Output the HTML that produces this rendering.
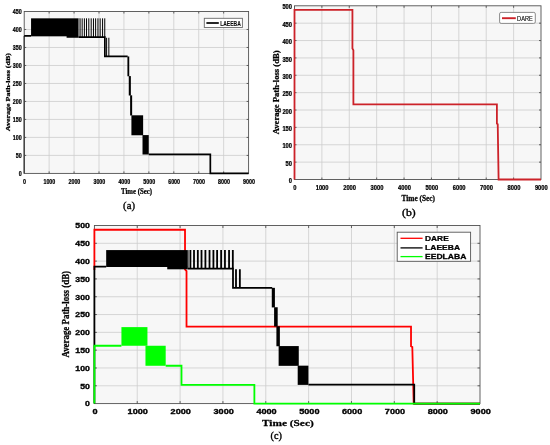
<!DOCTYPE html>
<html><head><meta charset="utf-8"><title>Average Path-loss</title>
<style>html,body{margin:0;padding:0;background:#fff;}body{width:550px;height:445px;overflow:hidden;}svg{display:block;}</style>
</head><body>
<svg width="550" height="445" viewBox="0 0 550 445">
<rect width="550" height="445" fill="#fff"/>
<rect x="24.2" y="11.5" width="224.4" height="161.9" fill="#f7f7f7"/>
<path d="M49.13 11.5V173.4M74.07 11.5V173.4M99 11.5V173.4M123.93 11.5V173.4M148.87 11.5V173.4M173.8 11.5V173.4M198.73 11.5V173.4M223.67 11.5V173.4M24.2 155.41H248.6M24.2 137.42H248.6M24.2 119.43H248.6M24.2 101.44H248.6M24.2 83.46H248.6M24.2 65.47H248.6M24.2 47.48H248.6M24.2 29.49H248.6" stroke="#cdcdcd" stroke-width="0.8" fill="none"/>
<path d="M49.13 173.4v-2M49.13 11.5v2M74.07 173.4v-2M74.07 11.5v2M99 173.4v-2M99 11.5v2M123.93 173.4v-2M123.93 11.5v2M148.87 173.4v-2M148.87 11.5v2M173.8 173.4v-2M173.8 11.5v2M198.73 173.4v-2M198.73 11.5v2M223.67 173.4v-2M223.67 11.5v2M24.2 155.41h2M248.6 155.41h-2M24.2 137.42h2M248.6 137.42h-2M24.2 119.43h2M248.6 119.43h-2M24.2 101.44h2M248.6 101.44h-2M24.2 83.46h2M248.6 83.46h-2M24.2 65.47h2M248.6 65.47h-2M24.2 47.48h2M248.6 47.48h-2M24.2 29.49h2M248.6 29.49h-2" stroke="#505050" stroke-width="0.9" fill="none"/>
<rect x="24.2" y="11.5" width="224.4" height="161.9" fill="none" stroke="#505050" stroke-width="0.9"/>
<rect x="31.06" y="18.34" width="47.52" height="17.99" fill="#000"/>
<rect x="66.59" y="35.96" width="11.99" height="1.8" fill="#000"/>
<path d="M80.08 37.04V18.34M82.17 37.04V18.34M84.39 37.04V18.34M86.53 37.04V18.34M88.8 37.04V18.34M91.2 37.04V18.34M93.46 37.04V18.34M95.61 37.04V18.34M97.95 37.04V18.34M100.17 37.04V18.34M102.57 37.04V18.34M104.76 37.04V18.34M106.6 56.47V37.76M108.85 56.47V37.76" stroke="#000" stroke-width="1.0" fill="none"/>
<path d="M24.2 173.4V35.96" stroke="#3c3c3c" stroke-width="1.3"/>
<path d="M79.13 37.04V18.34" stroke="#777" stroke-width="1.0"/>
<rect x="127.42" y="56.47" width="1.82" height="19.79" fill="#000"/>
<rect x="128.77" y="76.08" width="2.09" height="19.43" fill="#000"/>
<rect x="130.12" y="95.33" width="2.02" height="20.15" fill="#000"/>
<rect x="131.41" y="115.3" width="11.72" height="19.97" fill="#000"/>
<rect x="142.51" y="135.08" width="6.23" height="19.43" fill="#000"/>
<path d="M24.2 35.96L31.06 35.96M78.58 37.04L104.86 37.04L104.86 56.47L127.67 56.47M148.74 154.33L210.33 154.33L210.33 173.4L248.6 173.4" stroke="#000" stroke-width="1.7" fill="none"/>
<text transform="translate(23.04 183.52) scale(0.81 1)" font-family='"Liberation Sans", Arial, sans-serif' font-weight="bold" font-size="6.6" fill="#000" stroke="#000" stroke-width="0.25">0</text>
<text transform="translate(43.43 183.52) scale(0.81 1)" font-family='"Liberation Sans", Arial, sans-serif' font-weight="bold" font-size="6.6" fill="#000" stroke="#000" stroke-width="0.25">1000</text>
<text transform="translate(68.45 183.52) scale(0.81 1)" font-family='"Liberation Sans", Arial, sans-serif' font-weight="bold" font-size="6.6" fill="#000" stroke="#000" stroke-width="0.25">2000</text>
<text transform="translate(93.42 183.52) scale(0.81 1)" font-family='"Liberation Sans", Arial, sans-serif' font-weight="bold" font-size="6.6" fill="#000" stroke="#000" stroke-width="0.25">3000</text>
<text transform="translate(118.4 183.52) scale(0.81 1)" font-family='"Liberation Sans", Arial, sans-serif' font-weight="bold" font-size="6.6" fill="#000" stroke="#000" stroke-width="0.25">4000</text>
<text transform="translate(143.29 183.52) scale(0.81 1)" font-family='"Liberation Sans", Arial, sans-serif' font-weight="bold" font-size="6.6" fill="#000" stroke="#000" stroke-width="0.25">5000</text>
<text transform="translate(168.18 183.52) scale(0.81 1)" font-family='"Liberation Sans", Arial, sans-serif' font-weight="bold" font-size="6.6" fill="#000" stroke="#000" stroke-width="0.25">6000</text>
<text transform="translate(193.11 183.52) scale(0.81 1)" font-family='"Liberation Sans", Arial, sans-serif' font-weight="bold" font-size="6.6" fill="#000" stroke="#000" stroke-width="0.25">7000</text>
<text transform="translate(218.05 183.52) scale(0.81 1)" font-family='"Liberation Sans", Arial, sans-serif' font-weight="bold" font-size="6.6" fill="#000" stroke="#000" stroke-width="0.25">8000</text>
<text transform="translate(242.98 183.52) scale(0.81 1)" font-family='"Liberation Sans", Arial, sans-serif' font-weight="bold" font-size="6.6" fill="#000" stroke="#000" stroke-width="0.25">9000</text>
<text transform="translate(18.74 176.27) scale(0.81 1)" font-family='"Liberation Sans", Arial, sans-serif' font-weight="bold" font-size="6.6" fill="#000" stroke="#000" stroke-width="0.25">0</text>
<text transform="translate(15.77 158.28) scale(0.81 1)" font-family='"Liberation Sans", Arial, sans-serif' font-weight="bold" font-size="6.6" fill="#000" stroke="#000" stroke-width="0.25">50</text>
<text transform="translate(12.8 140.29) scale(0.81 1)" font-family='"Liberation Sans", Arial, sans-serif' font-weight="bold" font-size="6.6" fill="#000" stroke="#000" stroke-width="0.25">100</text>
<text transform="translate(12.8 122.3) scale(0.81 1)" font-family='"Liberation Sans", Arial, sans-serif' font-weight="bold" font-size="6.6" fill="#000" stroke="#000" stroke-width="0.25">150</text>
<text transform="translate(12.8 104.31) scale(0.81 1)" font-family='"Liberation Sans", Arial, sans-serif' font-weight="bold" font-size="6.6" fill="#000" stroke="#000" stroke-width="0.25">200</text>
<text transform="translate(12.8 86.32) scale(0.81 1)" font-family='"Liberation Sans", Arial, sans-serif' font-weight="bold" font-size="6.6" fill="#000" stroke="#000" stroke-width="0.25">250</text>
<text transform="translate(12.8 68.34) scale(0.81 1)" font-family='"Liberation Sans", Arial, sans-serif' font-weight="bold" font-size="6.6" fill="#000" stroke="#000" stroke-width="0.25">300</text>
<text transform="translate(12.8 50.35) scale(0.81 1)" font-family='"Liberation Sans", Arial, sans-serif' font-weight="bold" font-size="6.6" fill="#000" stroke="#000" stroke-width="0.25">350</text>
<text transform="translate(12.8 32.36) scale(0.81 1)" font-family='"Liberation Sans", Arial, sans-serif' font-weight="bold" font-size="6.6" fill="#000" stroke="#000" stroke-width="0.25">400</text>
<text transform="translate(12.8 14.37) scale(0.81 1)" font-family='"Liberation Sans", Arial, sans-serif' font-weight="bold" font-size="6.6" fill="#000" stroke="#000" stroke-width="0.25">450</text>
<text transform="translate(9.7 131.3) rotate(-90) scale(1.1477 1)" font-family='"Liberation Serif", "Times New Roman", serif' font-weight="bold" font-size="7.0" fill="#000" stroke="#000" stroke-width="0.25" stroke-linejoin="round">Average Path-loss (dB)</text>
<text transform="translate(121.09 193.7) scale(0.8895 1)" font-family='"Liberation Serif", "Times New Roman", serif' font-weight="bold" font-size="7.6" fill="#000" stroke="#000" stroke-width="0.25" stroke-linejoin="round">Time (Sec)</text>
<text transform="translate(123.06 208.8) scale(0.9508 1)" font-family='"Liberation Serif", "Times New Roman", serif' font-weight="normal" font-size="11.3" fill="#000" stroke="#000" stroke-width="0.35" stroke-linejoin="round">(a)</text>
<rect x="204.3" y="18.3" width="38.1" height="9.2" rx="0" fill="#fff" stroke="#6a6a6a" stroke-width="0.9"/>
<path d="M206.4 23H218.8" stroke="#000" stroke-width="1.7"/>
<text transform="translate(220.19 25.7) scale(0.7595 1)" font-family='"Liberation Sans", Arial, sans-serif' font-weight="bold" font-size="6.6" fill="#111" stroke="#000" stroke-width="0.12" stroke-linejoin="round">LAEEBA</text>
<rect x="294.5" y="5.8" width="246.5" height="173.7" fill="#f7f7f7"/>
<path d="M321.89 5.8V179.5M349.28 5.8V179.5M376.67 5.8V179.5M404.06 5.8V179.5M431.44 5.8V179.5M458.83 5.8V179.5M486.22 5.8V179.5M513.61 5.8V179.5M294.5 162.13H541M294.5 144.76H541M294.5 127.39H541M294.5 110.02H541M294.5 92.65H541M294.5 75.28H541M294.5 57.91H541M294.5 40.54H541M294.5 23.17H541" stroke="#cdcdcd" stroke-width="0.8" fill="none"/>
<path d="M321.89 179.5v-2M321.89 5.8v2M349.28 179.5v-2M349.28 5.8v2M376.67 179.5v-2M376.67 5.8v2M404.06 179.5v-2M404.06 5.8v2M431.44 179.5v-2M431.44 5.8v2M458.83 179.5v-2M458.83 5.8v2M486.22 179.5v-2M486.22 5.8v2M513.61 179.5v-2M513.61 5.8v2M294.5 162.13h2M541 162.13h-2M294.5 144.76h2M541 144.76h-2M294.5 127.39h2M541 127.39h-2M294.5 110.02h2M541 110.02h-2M294.5 92.65h2M541 92.65h-2M294.5 75.28h2M541 75.28h-2M294.5 57.91h2M541 57.91h-2M294.5 40.54h2M541 40.54h-2M294.5 23.17h2M541 23.17h-2" stroke="#505050" stroke-width="0.9" fill="none"/>
<rect x="294.5" y="5.8" width="246.5" height="173.7" fill="none" stroke="#505050" stroke-width="0.9"/>
<path d="M294.5 179.5L294.5 9.97L352.43 9.97L352.43 48.53L353.39 50.27L353.39 104.46L496.9 104.46L496.9 123.57L497.73 124.26L498.6 179.5L541 179.5" stroke="#cc2229" stroke-width="1.8" fill="none" stroke-linejoin="miter"/>
<text transform="translate(293.22 189.74) scale(0.85 1)" font-family='"Liberation Sans", Arial, sans-serif' font-weight="bold" font-size="6.8" fill="#000" stroke="#000" stroke-width="0.25">0</text>
<text transform="translate(315.7 189.74) scale(0.85 1)" font-family='"Liberation Sans", Arial, sans-serif' font-weight="bold" font-size="6.8" fill="#000" stroke="#000" stroke-width="0.25">1000</text>
<text transform="translate(343.18 189.74) scale(0.85 1)" font-family='"Liberation Sans", Arial, sans-serif' font-weight="bold" font-size="6.8" fill="#000" stroke="#000" stroke-width="0.25">2000</text>
<text transform="translate(370.61 189.74) scale(0.85 1)" font-family='"Liberation Sans", Arial, sans-serif' font-weight="bold" font-size="6.8" fill="#000" stroke="#000" stroke-width="0.25">3000</text>
<text transform="translate(398.04 189.74) scale(0.85 1)" font-family='"Liberation Sans", Arial, sans-serif' font-weight="bold" font-size="6.8" fill="#000" stroke="#000" stroke-width="0.25">4000</text>
<text transform="translate(425.39 189.74) scale(0.85 1)" font-family='"Liberation Sans", Arial, sans-serif' font-weight="bold" font-size="6.8" fill="#000" stroke="#000" stroke-width="0.25">5000</text>
<text transform="translate(452.73 189.74) scale(0.85 1)" font-family='"Liberation Sans", Arial, sans-serif' font-weight="bold" font-size="6.8" fill="#000" stroke="#000" stroke-width="0.25">6000</text>
<text transform="translate(480.12 189.74) scale(0.85 1)" font-family='"Liberation Sans", Arial, sans-serif' font-weight="bold" font-size="6.8" fill="#000" stroke="#000" stroke-width="0.25">7000</text>
<text transform="translate(507.51 189.74) scale(0.85 1)" font-family='"Liberation Sans", Arial, sans-serif' font-weight="bold" font-size="6.8" fill="#000" stroke="#000" stroke-width="0.25">8000</text>
<text transform="translate(534.9 189.74) scale(0.85 1)" font-family='"Liberation Sans", Arial, sans-serif' font-weight="bold" font-size="6.8" fill="#000" stroke="#000" stroke-width="0.25">9000</text>
<text transform="translate(288.82 183.14) scale(0.85 1)" font-family='"Liberation Sans", Arial, sans-serif' font-weight="bold" font-size="6.8" fill="#000" stroke="#000" stroke-width="0.25">0</text>
<text transform="translate(285.61 165.77) scale(0.85 1)" font-family='"Liberation Sans", Arial, sans-serif' font-weight="bold" font-size="6.8" fill="#000" stroke="#000" stroke-width="0.25">50</text>
<text transform="translate(282.39 148.4) scale(0.85 1)" font-family='"Liberation Sans", Arial, sans-serif' font-weight="bold" font-size="6.8" fill="#000" stroke="#000" stroke-width="0.25">100</text>
<text transform="translate(282.39 131.03) scale(0.85 1)" font-family='"Liberation Sans", Arial, sans-serif' font-weight="bold" font-size="6.8" fill="#000" stroke="#000" stroke-width="0.25">150</text>
<text transform="translate(282.39 113.66) scale(0.85 1)" font-family='"Liberation Sans", Arial, sans-serif' font-weight="bold" font-size="6.8" fill="#000" stroke="#000" stroke-width="0.25">200</text>
<text transform="translate(282.39 96.29) scale(0.85 1)" font-family='"Liberation Sans", Arial, sans-serif' font-weight="bold" font-size="6.8" fill="#000" stroke="#000" stroke-width="0.25">250</text>
<text transform="translate(282.39 78.92) scale(0.85 1)" font-family='"Liberation Sans", Arial, sans-serif' font-weight="bold" font-size="6.8" fill="#000" stroke="#000" stroke-width="0.25">300</text>
<text transform="translate(282.39 61.55) scale(0.85 1)" font-family='"Liberation Sans", Arial, sans-serif' font-weight="bold" font-size="6.8" fill="#000" stroke="#000" stroke-width="0.25">350</text>
<text transform="translate(282.39 44.18) scale(0.85 1)" font-family='"Liberation Sans", Arial, sans-serif' font-weight="bold" font-size="6.8" fill="#000" stroke="#000" stroke-width="0.25">400</text>
<text transform="translate(282.39 26.81) scale(0.85 1)" font-family='"Liberation Sans", Arial, sans-serif' font-weight="bold" font-size="6.8" fill="#000" stroke="#000" stroke-width="0.25">450</text>
<text transform="translate(282.39 9.44) scale(0.85 1)" font-family='"Liberation Sans", Arial, sans-serif' font-weight="bold" font-size="6.8" fill="#000" stroke="#000" stroke-width="0.25">500</text>
<text transform="translate(278.5 134.3) rotate(-90) scale(1.1328 1)" font-family='"Liberation Serif", "Times New Roman", serif' font-weight="bold" font-size="7.6" fill="#000" stroke="#000" stroke-width="0.25" stroke-linejoin="round">Average Path-loss (dB)</text>
<text transform="translate(401.49 200.9) scale(0.9198 1)" font-family='"Liberation Serif", "Times New Roman", serif' font-weight="bold" font-size="8" fill="#000" stroke="#000" stroke-width="0.25" stroke-linejoin="round">Time (Sec)</text>
<text transform="translate(402.04 215.8) scale(1.0403 1)" font-family='"Liberation Serif", "Times New Roman", serif' font-weight="normal" font-size="11.2" fill="#000" stroke="#000" stroke-width="0.4" stroke-linejoin="round">(b)</text>
<rect x="499.6" y="12.4" width="35.7" height="11" rx="1.5" fill="#fff" stroke="#8a8a8a" stroke-width="1.0"/>
<path d="M502 18.2H515.8" stroke="#cc2229" stroke-width="1.9"/>
<text transform="translate(517.06 20.7) scale(0.8233 1)" font-family='"Liberation Sans", Arial, sans-serif' font-weight="normal" font-size="6.9" fill="#000" stroke="#000" stroke-width="0.12" stroke-linejoin="round">DARE</text>
<rect x="94.4" y="225.5" width="385.6" height="178.1" fill="#f7f7f7"/>
<path d="M137.24 225.5V403.6M180.09 225.5V403.6M222.93 225.5V403.6M265.78 225.5V403.6M308.62 225.5V403.6M351.47 225.5V403.6M394.31 225.5V403.6M437.16 225.5V403.6M94.4 385.79H480M94.4 367.98H480M94.4 350.17H480M94.4 332.36H480M94.4 314.55H480M94.4 296.74H480M94.4 278.93H480M94.4 261.12H480M94.4 243.31H480" stroke="#cdcdcd" stroke-width="0.8" fill="none"/>
<path d="M137.24 403.6v-2.5M137.24 225.5v2.5M180.09 403.6v-2.5M180.09 225.5v2.5M222.93 403.6v-2.5M222.93 225.5v2.5M265.78 403.6v-2.5M265.78 225.5v2.5M308.62 403.6v-2.5M308.62 225.5v2.5M351.47 403.6v-2.5M351.47 225.5v2.5M394.31 403.6v-2.5M394.31 225.5v2.5M437.16 403.6v-2.5M437.16 225.5v2.5M94.4 385.79h2.5M480 385.79h-2.5M94.4 367.98h2.5M480 367.98h-2.5M94.4 350.17h2.5M480 350.17h-2.5M94.4 332.36h2.5M480 332.36h-2.5M94.4 314.55h2.5M480 314.55h-2.5M94.4 296.74h2.5M480 296.74h-2.5M94.4 278.93h2.5M480 278.93h-2.5M94.4 261.12h2.5M480 261.12h-2.5M94.4 243.31h2.5M480 243.31h-2.5" stroke="#505050" stroke-width="0.9" fill="none"/>
<rect x="94.4" y="225.5" width="385.6" height="178.1" fill="none" stroke="#505050" stroke-width="0.9"/>
<path d="M94.4 270.02L94.4 229.77L185.02 229.77L185.02 269.31L186.52 271.09L186.52 326.66L411.02 326.66L411.02 346.25L412.31 346.96L413.68 403.6L480 403.6" stroke="#ff0000" stroke-width="1.8" fill="none" stroke-linejoin="miter"/>
<rect x="106.18" y="250.08" width="81.66" height="16.92" fill="#000"/>
<rect x="167.24" y="266.64" width="20.61" height="2.67" fill="#000"/>
<path d="M190.41 268.6V250.08M194.01 268.6V250.08M197.83 268.6V250.08M201.51 268.6V250.08M205.41 268.6V250.08M209.52 268.6V250.08M213.42 268.6V250.08M217.11 268.6V250.08M221.13 268.6V250.08M224.95 268.6V250.08M229.06 268.6V250.08M232.83 268.6V250.08M236 287.84V269.31M239.86 287.84V269.31" stroke="#000" stroke-width="1.8" fill="none"/>
<path d="M188.79 268.6V250.08" stroke="#777" stroke-width="1.8"/>
<rect x="271.78" y="287.84" width="3.13" height="19.59" fill="#000"/>
<rect x="274.09" y="307.25" width="3.6" height="19.23" fill="#000"/>
<rect x="276.4" y="326.3" width="3.47" height="19.95" fill="#000"/>
<rect x="278.63" y="346.07" width="20.14" height="19.77" fill="#000"/>
<rect x="297.7" y="365.66" width="10.71" height="19.23" fill="#000"/>
<path d="M94.4 403.6L94.4 266.64L106.18 266.64M187.84 268.6L233 268.6L233 287.84L272.2 287.84M308.41 384.72L414.23 384.72L414.23 403.6L480 403.6" stroke="#000" stroke-width="1.8" fill="none"/>
<rect x="121.43" y="327.12" width="26.01" height="18.63" fill="#00ff00"/>
<rect x="145.47" y="345.75" width="20.22" height="20.02" fill="#00ff00"/>
<path d="M94.4 403.6L94.4 345.75L121.43 345.75M165.69 365.77L181.5 365.77L181.5 384.94L254.38 384.94L254.38 403.6L480 403.6" stroke="#00ff00" stroke-width="1.8" fill="none"/>
<text transform="translate(92.51 414.3) scale(1.36 1)" font-family='"Liberation Sans", Arial, sans-serif' font-weight="bold" font-size="6.7" fill="#000" stroke="#000" stroke-width="0.3">0</text>
<text transform="translate(127.61 414.3) scale(1.36 1)" font-family='"Liberation Sans", Arial, sans-serif' font-weight="bold" font-size="6.7" fill="#000" stroke="#000" stroke-width="0.3">1000</text>
<text transform="translate(170.6 414.3) scale(1.36 1)" font-family='"Liberation Sans", Arial, sans-serif' font-weight="bold" font-size="6.7" fill="#000" stroke="#000" stroke-width="0.3">2000</text>
<text transform="translate(213.51 414.3) scale(1.36 1)" font-family='"Liberation Sans", Arial, sans-serif' font-weight="bold" font-size="6.7" fill="#000" stroke="#000" stroke-width="0.3">3000</text>
<text transform="translate(256.43 414.3) scale(1.36 1)" font-family='"Liberation Sans", Arial, sans-serif' font-weight="bold" font-size="6.7" fill="#000" stroke="#000" stroke-width="0.3">4000</text>
<text transform="translate(299.2 414.3) scale(1.36 1)" font-family='"Liberation Sans", Arial, sans-serif' font-weight="bold" font-size="6.7" fill="#000" stroke="#000" stroke-width="0.3">5000</text>
<text transform="translate(341.97 414.3) scale(1.36 1)" font-family='"Liberation Sans", Arial, sans-serif' font-weight="bold" font-size="6.7" fill="#000" stroke="#000" stroke-width="0.3">6000</text>
<text transform="translate(384.82 414.3) scale(1.36 1)" font-family='"Liberation Sans", Arial, sans-serif' font-weight="bold" font-size="6.7" fill="#000" stroke="#000" stroke-width="0.3">7000</text>
<text transform="translate(427.66 414.3) scale(1.36 1)" font-family='"Liberation Sans", Arial, sans-serif' font-weight="bold" font-size="6.7" fill="#000" stroke="#000" stroke-width="0.3">8000</text>
<text transform="translate(470.51 414.3) scale(1.36 1)" font-family='"Liberation Sans", Arial, sans-serif' font-weight="bold" font-size="6.7" fill="#000" stroke="#000" stroke-width="0.3">9000</text>
<text transform="translate(85.01 406.4) scale(1.3 1)" font-family='"Liberation Sans", Arial, sans-serif' font-weight="bold" font-size="6.7" fill="#000" stroke="#000" stroke-width="0.3">0</text>
<text transform="translate(80.16 388.59) scale(1.3 1)" font-family='"Liberation Sans", Arial, sans-serif' font-weight="bold" font-size="6.7" fill="#000" stroke="#000" stroke-width="0.3">50</text>
<text transform="translate(75.32 370.78) scale(1.3 1)" font-family='"Liberation Sans", Arial, sans-serif' font-weight="bold" font-size="6.7" fill="#000" stroke="#000" stroke-width="0.3">100</text>
<text transform="translate(75.32 352.97) scale(1.3 1)" font-family='"Liberation Sans", Arial, sans-serif' font-weight="bold" font-size="6.7" fill="#000" stroke="#000" stroke-width="0.3">150</text>
<text transform="translate(75.32 335.16) scale(1.3 1)" font-family='"Liberation Sans", Arial, sans-serif' font-weight="bold" font-size="6.7" fill="#000" stroke="#000" stroke-width="0.3">200</text>
<text transform="translate(75.32 317.35) scale(1.3 1)" font-family='"Liberation Sans", Arial, sans-serif' font-weight="bold" font-size="6.7" fill="#000" stroke="#000" stroke-width="0.3">250</text>
<text transform="translate(75.32 299.54) scale(1.3 1)" font-family='"Liberation Sans", Arial, sans-serif' font-weight="bold" font-size="6.7" fill="#000" stroke="#000" stroke-width="0.3">300</text>
<text transform="translate(75.32 281.73) scale(1.3 1)" font-family='"Liberation Sans", Arial, sans-serif' font-weight="bold" font-size="6.7" fill="#000" stroke="#000" stroke-width="0.3">350</text>
<text transform="translate(75.32 263.92) scale(1.3 1)" font-family='"Liberation Sans", Arial, sans-serif' font-weight="bold" font-size="6.7" fill="#000" stroke="#000" stroke-width="0.3">400</text>
<text transform="translate(75.32 246.11) scale(1.3 1)" font-family='"Liberation Sans", Arial, sans-serif' font-weight="bold" font-size="6.7" fill="#000" stroke="#000" stroke-width="0.3">450</text>
<text transform="translate(75.32 228.3) scale(1.3 1)" font-family='"Liberation Sans", Arial, sans-serif' font-weight="bold" font-size="6.7" fill="#000" stroke="#000" stroke-width="0.3">500</text>
<text transform="translate(68.6 357.6) rotate(-90) scale(0.8394 1)" font-family='"Liberation Serif", "Times New Roman", serif' font-weight="bold" font-size="10.6" fill="#000" stroke="#000" stroke-width="0.3" stroke-linejoin="round">Average Path-loss (dB)</text>
<text transform="translate(261.92 425.9) scale(1.2335 1)" font-family='"Liberation Serif", "Times New Roman", serif' font-weight="bold" font-size="9.2" fill="#000" stroke="#000" stroke-width="0.25" stroke-linejoin="round">Time (Sec)</text>
<text transform="translate(270.58 439.2) scale(1.0933 1)" font-family='"Liberation Serif", "Times New Roman", serif' font-weight="normal" font-size="9.3" fill="#000" stroke="#000" stroke-width="0.35" stroke-linejoin="round">(c)</text>
<rect x="397.2" y="232.2" width="73.4" height="29.1" rx="0" fill="#fff" stroke="#555" stroke-width="0.9"/>
<path d="M400.5 238.3H422.6" stroke="#ff0000" stroke-width="1.3"/>
<path d="M400.5 247.9H422.6" stroke="#000000" stroke-width="1.3"/>
<path d="M400.5 256.6H422.6" stroke="#00ff00" stroke-width="1.3"/>
<text transform="translate(425.08 240.8) scale(1.2642 1)" font-family='"Liberation Sans", Arial, sans-serif' font-weight="bold" font-size="6.6" fill="#000" stroke="#000" stroke-width="0.25" stroke-linejoin="round">DARE</text>
<text transform="translate(425.07 249.9) scale(1.2896 1)" font-family='"Liberation Sans", Arial, sans-serif' font-weight="bold" font-size="6.6" fill="#000" stroke="#000" stroke-width="0.25" stroke-linejoin="round">LAEEBA</text>
<text transform="translate(425.06 258.8) scale(1.2977 1)" font-family='"Liberation Sans", Arial, sans-serif' font-weight="bold" font-size="6.6" fill="#000" stroke="#000" stroke-width="0.25" stroke-linejoin="round">EEDLABA</text>
</svg>
</body></html>
